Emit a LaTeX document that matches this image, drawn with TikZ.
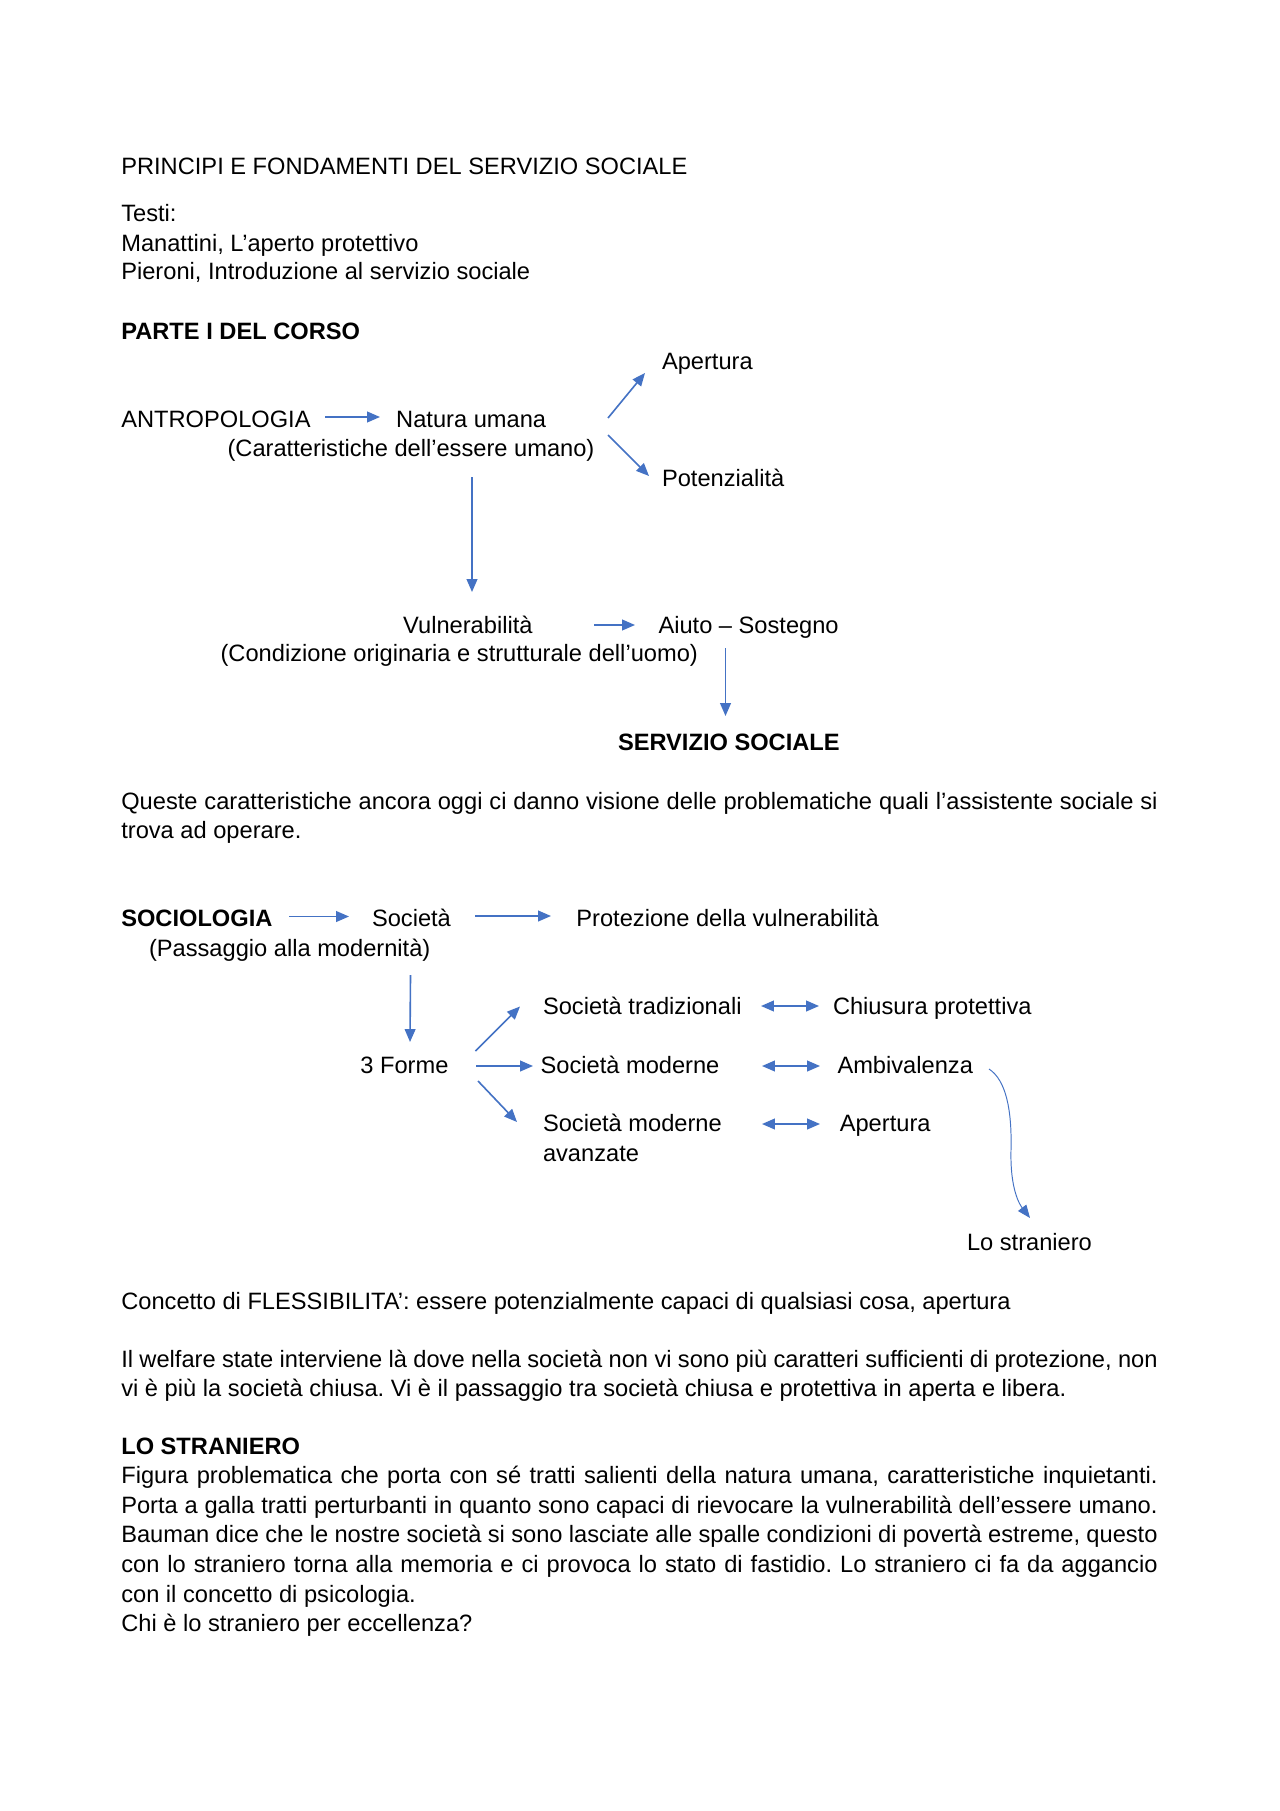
\documentclass[tikz,border=0pt]{standalone}
\usepackage{fontspec}
\setmainfont{Liberation Sans}
\usetikzlibrary{arrows.meta}
\definecolor{arrowblue}{HTML}{4472C4}
\newcommand{\jline}[1]{\makebox[481.9pt][s]{#1}}
\begin{document}
\frenchspacing
\begin{tikzpicture}[x=0.465pt,y=-0.465pt,
  txt/.style={anchor=base west, inner sep=0pt, outer sep=0pt, font=\fontsize{11}{13}\selectfont\frenchspacing},
  bold/.style={txt, font=\fontsize{11}{13}\selectfont\bfseries},
  arr/.style={draw=arrowblue, line width=0.75pt, -{Triangle[length=6pt,width=5pt]}},
  darr/.style={draw=arrowblue, line width=0.75pt, {Triangle[length=6pt,width=5pt]}-{Triangle[length=6pt,width=5pt]}},
  carr/.style={draw=arrowblue, line width=0.45pt, -{Triangle[length=6pt,width=4.8pt]}}]
\useasboundingbox[fill=white] (0,0) rectangle (1280,1811);

% Header
\node[txt] (title) at (121.3,175) {PRINCIPI E FONDAMENTI DEL SERVIZIO SOCIALE};
\node[txt] (testi) at (121.3,222) {Testi:};
\node[txt] (man) at (121.3,251) {Manattini, L’aperto protettivo};
\node[txt] (pier) at (121.3,280) {Pieroni, Introduzione al servizio sociale};
\node[bold] (parte) at (121.3,339) {PARTE I DEL CORSO};

% Antropologia diagram
\node[txt] (apertura1) at (662,369) {Apertura};
\node[txt] (antro) at (121.3,427) {ANTROPOLOGIA};
\node[txt] (natura) at (396.2,427) {Natura umana};
\node[txt] (caratt) at (227.6,456) {(Caratteristiche dell’essere umano)};
\node[txt] (potenz) at (662,486) {Potenzialità};
\node[txt] (vulner) at (403.2,633) {Vulnerabilità};
\node[txt] (condiz) at (220.6,661) {(Condizione originaria e strutturale dell’uomo)};
\node[txt] (aiuto) at (658.5,633) {Aiuto – Sostegno};
\node[bold] (servizio) at (618,750.5) {SERVIZIO SOCIALE};

\coordinate (a1s) at (325,417); \coordinate (a1e) at (380,417);
\coordinate (a2s) at (608,418); \coordinate (a2e) at (645,373);
\coordinate (a3s) at (608,435); \coordinate (a3e) at (649,476);
\coordinate (a4s) at (472,477); \coordinate (a4e) at (472,592);
\coordinate (a5s) at (594,625); \coordinate (a5e) at (635,625);
\coordinate (a6s) at (725.5,648); \coordinate (a6e) at (725.5,716);
\draw[arr] (a1s) -- (a1e);
\draw[arr] (a2s) -- (a2e);
\draw[arr] (a3s) -- (a3e);
\draw[arr] (a4s) -- (a4e);
\draw[arr] (a5s) -- (a5e);
\draw[arr] (a6s) -- (a6e);

% Paragraph
\node[txt] (queste1) at (121.3,809) {\jline{Queste caratteristiche ancora oggi ci danno visione delle problematiche quali l’assistente sociale si}};
\node[txt] (queste2) at (121.3,838.5) {trova ad operare.};

% Sociologia diagram
\node[bold] (socio) at (121.3,926.5) {SOCIOLOGIA};
\node[txt] (societa) at (372,926.5) {Società};
\node[txt] (protez) at (576.4,926.5) {Protezione della vulnerabilità};
\node[txt] (passag) at (149,956) {(Passaggio alla modernità)};
\node[txt] (tradiz) at (543,1014.5) {Società tradizionali};
\node[txt] (chiusura) at (833,1014.5) {Chiusura protettiva};
\node[txt] (forme) at (360.4,1073) {3 Forme};
\node[txt] (moderne) at (540.6,1073) {Società moderne};
\node[txt] (ambiv) at (837.5,1073) {Ambivalenza};
\node[txt] (avanz1) at (543,1131.5) {Società moderne};
\node[txt] (avanz2) at (543,1161) {avanzate};
\node[txt] (apertura2) at (839.8,1131.5) {Apertura};
\node[txt] (stran) at (967,1250.6) {Lo straniero};

\coordinate (a7s) at (289,916.5); \coordinate (a7e) at (349,916.5);
\coordinate (a8s) at (475,916); \coordinate (a8e) at (551,916);
\coordinate (a9s) at (410.5,975); \coordinate (a9e) at (410,1042);
\coordinate (a10s) at (475.5,1051); \coordinate (a10e) at (520,1006.5);
\coordinate (a11s) at (476,1066); \coordinate (a11e) at (533,1066);
\coordinate (a12s) at (478,1081); \coordinate (a12e) at (517,1122);
\coordinate (a13s) at (761,1006); \coordinate (a13e) at (819,1006);
\coordinate (a14s) at (762,1066); \coordinate (a14e) at (820,1066);
\coordinate (a15s) at (762,1124); \coordinate (a15e) at (820,1124);
\coordinate (cs) at (989,1069); \coordinate (cm) at (1011,1150); \coordinate (ce) at (1030,1218);
\draw[arr] (a7s) -- (a7e);
\draw[arr] (a8s) -- (a8e);
\draw[arr] (a9s) -- (a9e);
\draw[arr] (a10s) -- (a10e);
\draw[arr] (a11s) -- (a11e);
\draw[arr] (a12s) -- (a12e);
\draw[darr] (a13s) -- (a13e);
\draw[darr] (a14s) -- (a14e);
\draw[darr] (a15s) -- (a15e);
\draw[carr] (cs) .. controls (1006,1080) and (1012,1110) .. (cm) .. controls (1010,1190) and (1020,1205) .. (ce);

% Final text
\node[txt] (flex) at (121.3,1309) {Concetto di FLESSIBILITA’: essere potenzialmente capaci di qualsiasi cosa, apertura};
\node[txt] (welf1) at (121.3,1367.5) {\jline{Il welfare state interviene là dove nella società non vi sono più caratteri sufficienti di protezione, non}};
\node[txt] (welf2) at (121.3,1396.8) {vi è più la società chiusa. Vi è il passaggio tra società chiusa e protettiva in aperta e libera.};
\node[bold] (lostr) at (121.3,1454.5) {LO STRANIERO};
\node[txt] (p1) at (121.3,1483.6) {\jline{Figura problematica che porta con sé tratti salienti della natura umana, caratteristiche inquietanti.}};
\node[txt] (p2) at (121.3,1513.2) {\jline{Porta a galla tratti perturbanti in quanto sono capaci di rievocare la vulnerabilità dell’essere umano.}};
\node[txt] (p3) at (121.3,1542.8) {\jline{Bauman dice che le nostre società si sono lasciate alle spalle condizioni di povertà estreme, questo}};
\node[txt] (p4) at (121.3,1572.4) {\jline{con lo straniero torna alla memoria e ci provoca lo stato di fastidio. Lo straniero ci fa da aggancio}};
\node[txt] (p5) at (121.3,1602) {con il concetto di psicologia.};
\node[txt] (p6) at (121.3,1631.6) {Chi è lo straniero per eccellenza?};
\end{tikzpicture}
\end{document}
